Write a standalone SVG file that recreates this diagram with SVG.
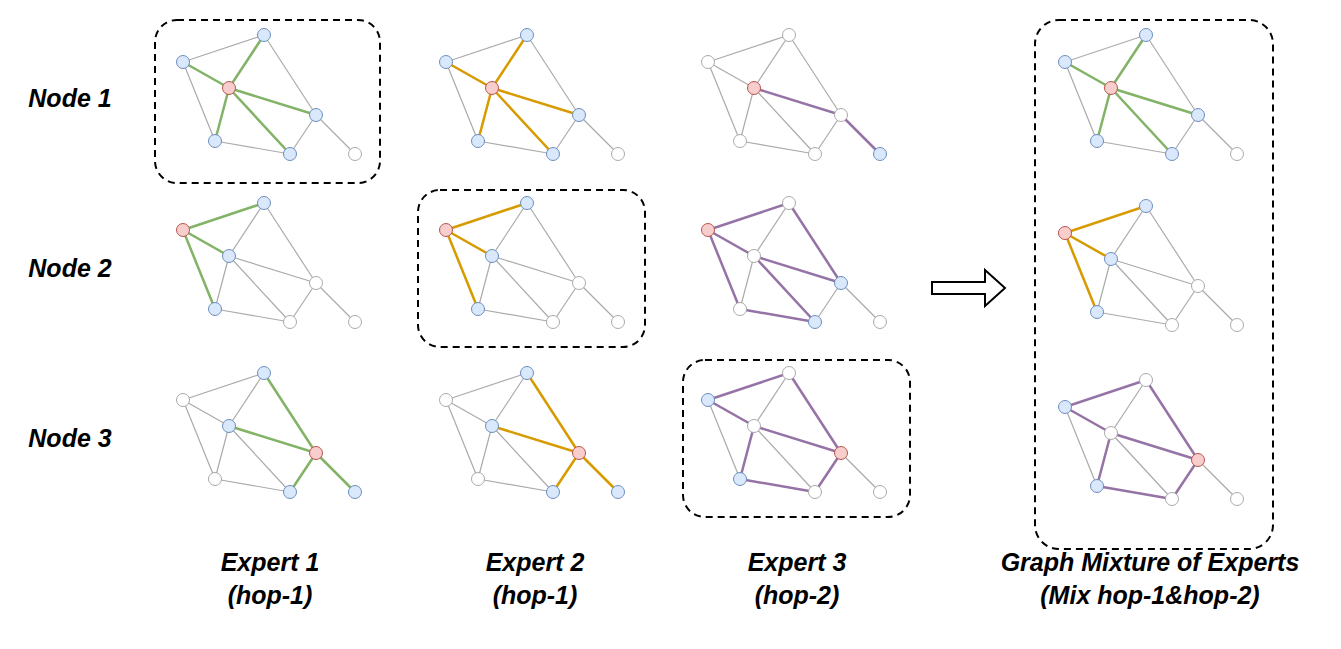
<svg xmlns="http://www.w3.org/2000/svg" xmlns:xlink="http://www.w3.org/1999/xlink" width="1341" height="649" viewBox="0 0 1341 649">
<style>
.e{stroke:#aaa;stroke-width:1.2;fill:none}
.g{stroke:#82b366;stroke-width:2.5}
.o{stroke:#d79b00;stroke-width:2.5}
.p{stroke:#9673a6;stroke-width:2.5}
.w{fill:#fff;stroke:#aaa;stroke-width:1}
.b{fill:#dae8fc;stroke:#6c8ebf;stroke-width:1}
.r{fill:#f8cecc;stroke:#b85450;stroke-width:1}
.box{fill:none;stroke:#000;stroke-width:2;stroke-dasharray:7,5}
.t{font-family:"Liberation Sans",Arial,sans-serif;font-weight:bold;font-style:italic;font-size:25px;fill:#000}
</style>
<defs>
<g id="base" class="e">
<line x1="0" y1="0" x2="81" y2="-27"/><line x1="0" y1="0" x2="46" y2="26"/><line x1="0" y1="0" x2="32" y2="79"/>
<line x1="81" y1="-27" x2="46" y2="26"/><line x1="81" y1="-27" x2="133" y2="53"/><line x1="46" y1="26" x2="133" y2="53"/>
<line x1="46" y1="26" x2="32" y2="79"/><line x1="46" y1="26" x2="107" y2="92"/><line x1="32" y1="79" x2="107" y2="92"/>
<line x1="133" y1="53" x2="107" y2="92"/><line x1="133" y1="53" x2="172" y2="92"/>
</g>
<g id="h1"><line x1="46" y1="26" x2="0" y2="0"/><line x1="46" y1="26" x2="81" y2="-27"/><line x1="46" y1="26" x2="133" y2="53"/><line x1="46" y1="26" x2="32" y2="79"/><line x1="46" y1="26" x2="107" y2="92"/></g>
<g id="h2"><line x1="0" y1="0" x2="81" y2="-27"/><line x1="0" y1="0" x2="46" y2="26"/><line x1="0" y1="0" x2="32" y2="79"/></g>
<g id="h3"><line x1="133" y1="53" x2="81" y2="-27"/><line x1="133" y1="53" x2="46" y2="26"/><line x1="133" y1="53" x2="107" y2="92"/><line x1="133" y1="53" x2="172" y2="92"/></g>
<g id="p1"><line x1="46" y1="26" x2="133" y2="53"/><line x1="133" y1="53" x2="172" y2="92"/></g>
<g id="p2"><line x1="0" y1="0" x2="81" y2="-27"/><line x1="0" y1="0" x2="46" y2="26"/><line x1="0" y1="0" x2="32" y2="79"/><line x1="81" y1="-27" x2="133" y2="53"/><line x1="46" y1="26" x2="133" y2="53"/><line x1="46" y1="26" x2="107" y2="92"/><line x1="32" y1="79" x2="107" y2="92"/></g>
<g id="p3"><line x1="0" y1="0" x2="81" y2="-27"/><line x1="81" y1="-27" x2="133" y2="53"/><line x1="0" y1="0" x2="46" y2="26"/><line x1="46" y1="26" x2="133" y2="53"/><line x1="46" y1="26" x2="32" y2="79"/><line x1="32" y1="79" x2="107" y2="92"/><line x1="107" y1="92" x2="133" y2="53"/></g>
</defs>

<g id="connectors">
<g transform="translate(183,62)"><use xlink:href="#base"/><use xlink:href="#h1" class="g"/></g>
<g transform="translate(446,62)"><use xlink:href="#base"/><use xlink:href="#h1" class="o"/></g>
<g transform="translate(708,62)"><use xlink:href="#base"/><use xlink:href="#p1" class="p"/></g>
<g transform="translate(1065,62)"><use xlink:href="#base"/><use xlink:href="#h1" class="g"/></g>
<g transform="translate(183,230)"><use xlink:href="#base"/><use xlink:href="#h2" class="g"/></g>
<g transform="translate(446,230)"><use xlink:href="#base"/><use xlink:href="#h2" class="o"/></g>
<g transform="translate(708,230)"><use xlink:href="#base"/><use xlink:href="#p2" class="p"/></g>
<g transform="translate(1065,233)"><use xlink:href="#base"/><use xlink:href="#h2" class="o"/></g>
<g transform="translate(183,400)"><use xlink:href="#base"/><use xlink:href="#h3" class="g"/></g>
<g transform="translate(446,400)"><use xlink:href="#base"/><use xlink:href="#h3" class="o"/></g>
<g transform="translate(708,400)"><use xlink:href="#base"/><use xlink:href="#p3" class="p"/></g>
<g transform="translate(1065,407)"><use xlink:href="#base"/><use xlink:href="#p3" class="p"/></g>
<path d="M932,282 H985 V270 L1005,288 L985,306 V294 H932 Z" fill="#fff" stroke="#000" stroke-width="2"/>
</g>

<g id="n11" transform="translate(183,62)"><circle r="6.5" class="b"/><circle cx="81" cy="-27" r="6.5" class="b"/><circle cx="46" cy="26" r="6.5" class="r"/><circle cx="133" cy="53" r="6.5" class="b"/><circle cx="32" cy="79" r="6.5" class="b"/><circle cx="107" cy="92" r="6.5" class="b"/><circle cx="172" cy="92" r="6.5" class="w"/></g>
<g id="n12" transform="translate(446,62)"><circle r="6.5" class="b"/><circle cx="81" cy="-27" r="6.5" class="b"/><circle cx="46" cy="26" r="6.5" class="r"/><circle cx="133" cy="53" r="6.5" class="b"/><circle cx="32" cy="79" r="6.5" class="b"/><circle cx="107" cy="92" r="6.5" class="b"/><circle cx="172" cy="92" r="6.5" class="w"/></g>
<g id="n13" transform="translate(708,62)"><circle r="6.5" class="w"/><circle cx="81" cy="-27" r="6.5" class="w"/><circle cx="46" cy="26" r="6.5" class="r"/><circle cx="133" cy="53" r="6.5" class="w"/><circle cx="32" cy="79" r="6.5" class="w"/><circle cx="107" cy="92" r="6.5" class="w"/><circle cx="172" cy="92" r="6.5" class="b"/></g>
<g id="n14" transform="translate(1065,62)"><circle r="6.5" class="b"/><circle cx="81" cy="-27" r="6.5" class="b"/><circle cx="46" cy="26" r="6.5" class="r"/><circle cx="133" cy="53" r="6.5" class="b"/><circle cx="32" cy="79" r="6.5" class="b"/><circle cx="107" cy="92" r="6.5" class="b"/><circle cx="172" cy="92" r="6.5" class="w"/></g>

<g id="n21" transform="translate(183,230)"><circle r="6.5" class="r"/><circle cx="81" cy="-27" r="6.5" class="b"/><circle cx="46" cy="26" r="6.5" class="b"/><circle cx="133" cy="53" r="6.5" class="w"/><circle cx="32" cy="79" r="6.5" class="b"/><circle cx="107" cy="92" r="6.5" class="w"/><circle cx="172" cy="92" r="6.5" class="w"/></g>
<g id="n22" transform="translate(446,230)"><circle r="6.5" class="r"/><circle cx="81" cy="-27" r="6.5" class="b"/><circle cx="46" cy="26" r="6.5" class="b"/><circle cx="133" cy="53" r="6.5" class="w"/><circle cx="32" cy="79" r="6.5" class="b"/><circle cx="107" cy="92" r="6.5" class="w"/><circle cx="172" cy="92" r="6.5" class="w"/></g>
<g id="n23" transform="translate(708,230)"><circle r="6.5" class="r"/><circle cx="81" cy="-27" r="6.5" class="w"/><circle cx="46" cy="26" r="6.5" class="w"/><circle cx="133" cy="53" r="6.5" class="b"/><circle cx="32" cy="79" r="6.5" class="w"/><circle cx="107" cy="92" r="6.5" class="b"/><circle cx="172" cy="92" r="6.5" class="w"/></g>
<g id="n24" transform="translate(1065,233)"><circle r="6.5" class="r"/><circle cx="81" cy="-27" r="6.5" class="b"/><circle cx="46" cy="26" r="6.5" class="b"/><circle cx="133" cy="53" r="6.5" class="w"/><circle cx="32" cy="79" r="6.5" class="b"/><circle cx="107" cy="92" r="6.5" class="w"/><circle cx="172" cy="92" r="6.5" class="w"/></g>

<g id="n31" transform="translate(183,400)"><circle r="6.5" class="w"/><circle cx="81" cy="-27" r="6.5" class="b"/><circle cx="46" cy="26" r="6.5" class="b"/><circle cx="133" cy="53" r="6.5" class="r"/><circle cx="32" cy="79" r="6.5" class="w"/><circle cx="107" cy="92" r="6.5" class="b"/><circle cx="172" cy="92" r="6.5" class="b"/></g>
<g id="n32" transform="translate(446,400)"><circle r="6.5" class="w"/><circle cx="81" cy="-27" r="6.5" class="b"/><circle cx="46" cy="26" r="6.5" class="b"/><circle cx="133" cy="53" r="6.5" class="r"/><circle cx="32" cy="79" r="6.5" class="w"/><circle cx="107" cy="92" r="6.5" class="b"/><circle cx="172" cy="92" r="6.5" class="b"/></g>
<g id="n33" transform="translate(708,400)"><circle r="6.5" class="b"/><circle cx="81" cy="-27" r="6.5" class="w"/><circle cx="46" cy="26" r="6.5" class="w"/><circle cx="133" cy="53" r="6.5" class="r"/><circle cx="32" cy="79" r="6.5" class="b"/><circle cx="107" cy="92" r="6.5" class="w"/><circle cx="172" cy="92" r="6.5" class="w"/></g>
<g id="n34" transform="translate(1065,407)"><circle r="6.5" class="b"/><circle cx="81" cy="-27" r="6.5" class="w"/><circle cx="46" cy="26" r="6.5" class="w"/><circle cx="133" cy="53" r="6.5" class="r"/><circle cx="32" cy="79" r="6.5" class="b"/><circle cx="107" cy="92" r="6.5" class="w"/><circle cx="172" cy="92" r="6.5" class="w"/></g>

<g id="boxes">
<rect class="box" x="155" y="20" width="225" height="163" rx="22"/>
<rect class="box" x="418" y="190" width="227" height="157" rx="22"/>
<rect class="box" x="683" y="360" width="227" height="157" rx="22"/>
<rect class="box" x="1035" y="20" width="238" height="529" rx="24"/>
</g>

<g id="labels" class="t">
<text x="70" y="107" text-anchor="middle">Node 1</text>
<text x="70" y="277" text-anchor="middle">Node 2</text>
<text x="70" y="447" text-anchor="middle">Node 3</text>
<text x="270" y="571" text-anchor="middle">Expert 1</text>
<text x="270" y="604" text-anchor="middle">(hop-1)</text>
<text x="535" y="571" text-anchor="middle">Expert 2</text>
<text x="535" y="604" text-anchor="middle">(hop-1)</text>
<text x="797" y="571" text-anchor="middle">Expert 3</text>
<text x="797" y="604" text-anchor="middle">(hop-2)</text>
<text x="1150" y="571" text-anchor="middle">Graph Mixture of Experts</text>
<text x="1150" y="604" text-anchor="middle">(Mix hop-1&amp;hop-2)</text>
</g>
</svg>
